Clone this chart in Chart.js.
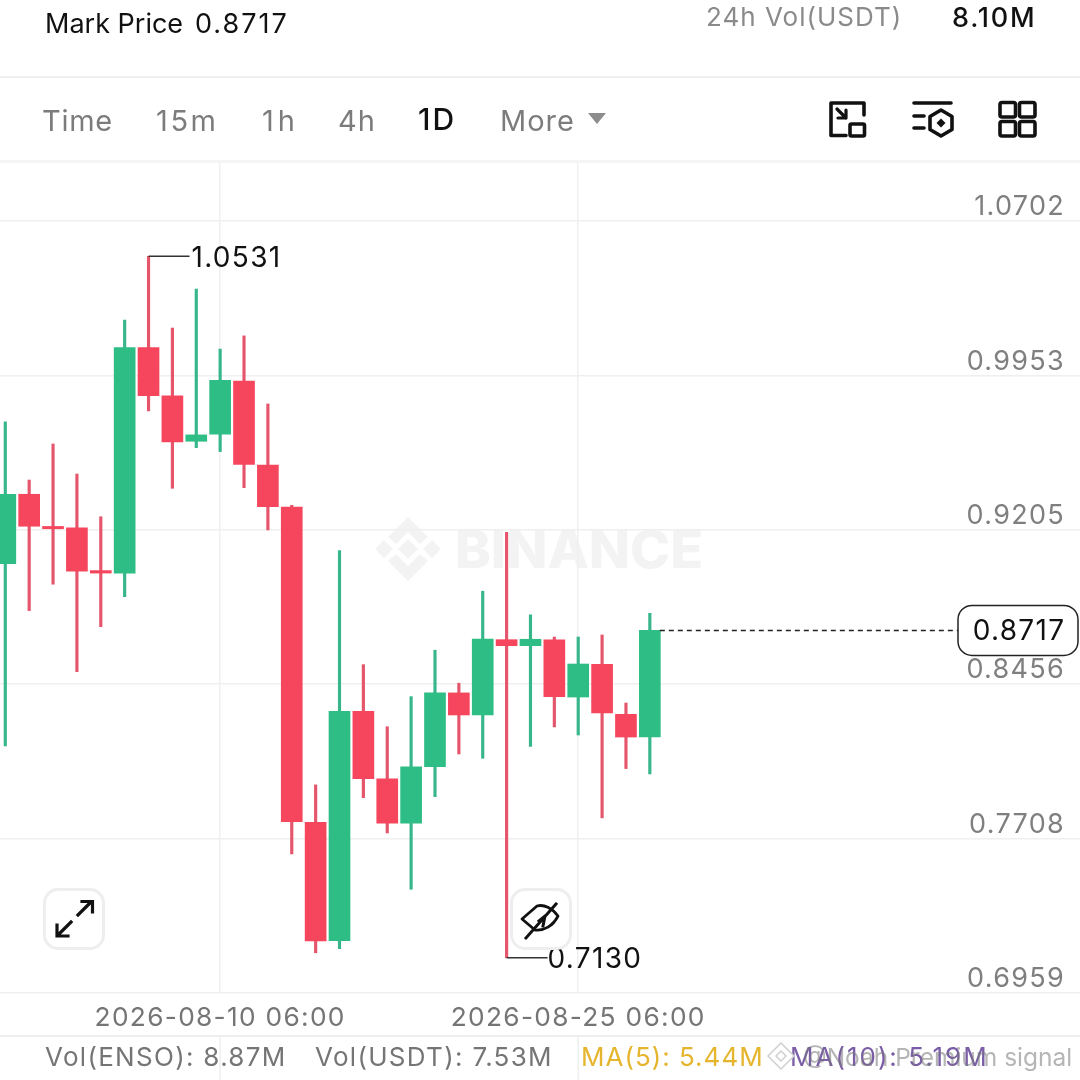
<!DOCTYPE html>
<html lang="en">
<head>
<meta charset="UTF-8">
<title>ENSO 1D</title>
<script src="https://cdn.jsdelivr.net/npm/chart.js"></script>
<style>
    html, body { margin: 0; padding: 0; background: #fff; }
    body { width: 1080px; height: 1080px; position: relative; overflow: hidden; font-family: 'Inter', sans-serif; }
    .t { position: absolute; white-space: nowrap; line-height: 1; transform: translateY(-50%); }
    .hline { position: absolute; left: 0; width: 1080px; }
    #chart { position: absolute; left: 0; top: 0; }
    svg.layer { position: absolute; left: 0; top: 0; }
    .btn { position: absolute; width: 56px; height: 56px; border: 3px solid #eeeeee; border-radius: 15px; background: #fff; }
    .tab { font-size: 29px; color: #7c7c7c; }
    .foot { font-size: 26px; color: #757575; }
</style>
</head>
<body>
    <svg class="layer" width="1080" height="1080" fill="#f3f3f3">
        <g transform="translate(408 549)">
            <polygon points="0,-10 10,0 0,10 -10,0"/>
            <polygon points="-24,-9 -15,0 -24,9 -33,0"/>
            <polygon points="24,-9 33,0 24,9 15,0"/>
            <polygon points="0,-32 20,-12 12,-5 0,-17 -12,-5 -20,-12"/>
            <polygon points="0,32 20,12 12,5 0,17 -12,5 -20,12"/>
        </g>
        <text x="455" y="568" font-family="Inter" font-weight="800" font-size="52" textLength="248" lengthAdjust="spacingAndGlyphs">BINANCE</text>
    </svg>

    <canvas id="chart" width="1080" height="1080"></canvas>

    <div class="t" style="left:45px;top:23px;font-size:27px;color:#111;">Mark Price</div>
    <div class="t" style="left:195px;top:23px;font-size:27px;color:#111;letter-spacing:2px;">0.8717</div>
    <div class="t" style="left:706px;top:17px;font-size:26px;color:#8a8a8a;letter-spacing:1px;">24h Vol(USDT)</div>
    <div class="t" style="left:952px;top:17px;font-size:27px;color:#111;font-weight:500;letter-spacing:1.800px;">8.10M</div>
    <div class="hline" style="top:76px;height:2px;background:#efefef;"></div>

    <div class="t tab" style="left:42px;top:120px;letter-spacing:.7px;">Time</div>
    <div class="t tab" style="left:156px;top:120px;letter-spacing:2.600px;">15m</div>
    <div class="t tab" style="left:262px;top:120px;letter-spacing:4px;">1h</div>
    <div class="t tab" style="left:338px;top:120px;letter-spacing:1px;">4h</div>
    <div class="t tab" style="left:418px;top:119px;font-size:30px;color:#111;font-weight:500;letter-spacing:2px;">1D</div>
    <div class="t tab" style="left:500px;top:120px;letter-spacing:1px;">More</div>
    <div class="hline" style="top:160px;height:3px;background:#f5f5f5;"></div>

    <svg class="layer" width="1080" height="1080" fill="none" stroke="#111" stroke-width="3.6" stroke-linecap="round" stroke-linejoin="round">
        <polygon points="588,113 606,113 597,124" fill="#8c8c8c" stroke="none"/>
        <!-- toolbar icons -->
        <path d="M846 135.500H831V103H864V115"/>
        <rect x="850" y="124" width="14.500" height="12" rx="1.500"/>
        <path d="M837 109L846 118M846 110V118H838" stroke-width="3.200"/>
        <path d="M914 103H951M914 116H924M914 128H924"/>
        <path d="M941 110L952 116.500V129.500L941 136L930 129.500V116.500Z"/>
        <path d="M941 118.500L945.500 123L941 127.500L936.500 123Z" fill="#111" stroke="none"/>
        <rect x="1000" y="102.500" width="15.500" height="14.500" rx="2"/>
        <rect x="1019.500" y="102.500" width="15.500" height="14.500" rx="2"/>
        <rect x="1000" y="121.500" width="15.500" height="14.500" rx="2"/>
        <rect x="1019.500" y="121.500" width="15.500" height="14.500" rx="2"/>
    </svg>

    <div class="btn" style="left:43px;top:888px;"></div>
    <div class="btn" style="left:510px;top:888px;"></div>
    <svg class="layer" width="1080" height="1080" fill="none" stroke="#111" stroke-width="3.200" stroke-linecap="square" stroke-linejoin="miter">
        <path d="M78 915L91 902M82 901.500H92.500V912"/>
        <path d="M71 922L57.500 935.500M57 925V936H68"/>
        <path d="M522 919L537 906C544 904 552 908 558 916C553 926 544 931 535 930Z" stroke-width="2.800" stroke-linejoin="round"/>
        <path d="M526 938L556 904M539 921L545 916L543 926" stroke-width="3"/>
    </svg>

    <div class="t foot" style="left:45px;top:1057px;letter-spacing:1.300px;">Vol(ENSO): 8.87M</div>
    <div class="t foot" style="left:315px;top:1057px;letter-spacing:1.300px;">Vol(USDT): 7.53M</div>
    <div class="t foot" style="left:581px;top:1057px;color:#e5b52e;letter-spacing:1px;">MA(5): 5.44M</div>
    <div class="t foot" style="left:790px;top:1057px;color:#7a5da6;letter-spacing:2px;">MA(10): 5.19M</div>
    <svg class="layer" width="1080" height="1080" fill="#fff" stroke="#cfcfcf" stroke-width="1.500">
        <polygon points="781,1043 794,1056 781,1069 768,1056"/>
        <polygon points="781,1051 786,1056 781,1061 776,1056"/>
    </svg>
    <div class="t foot" style="left:803px;top:1057px;font-size:24.500px;color:rgba(120,120,120,.55);">@Noah Premium signal</div>

    <script>
        const opens  = [0.9040, 0.9377, 0.9221, 0.9214, 0.9007, 0.8995, 1.0088, 0.9854, 0.9634, 0.9669, 0.9926, 0.9518, 0.9315, 0.7787, 0.7213, 0.8325, 0.7997, 0.7782, 0.8056, 0.8414, 0.8307, 0.8672, 0.8643, 0.8671, 0.8394, 0.8553, 0.8310, 0.8200];
        const closes = [0.9377, 0.9222, 0.9210, 0.9004, 0.8995, 1.0088, 0.9855, 0.9631, 0.9665, 0.9930, 0.9522, 0.9317, 0.7790, 0.7211, 0.8325, 0.7998, 0.7782, 0.8055, 0.8414, 0.8307, 0.8675, 0.8643, 0.8674, 0.8396, 0.8554, 0.8317, 0.8200, 0.8717];
        const highs  = [0.9728, 0.9446, 0.9621, 0.9475, 0.9268, 1.0222, 1.0531, 1.0183, 1.0372, 1.0081, 1.0145, 0.9815, 0.9324, 0.7968, 0.9104, 0.8551, 0.8250, 0.8396, 0.8621, 0.8461, 0.8907, 0.9193, 0.8793, 0.8685, 0.8685, 0.8695, 0.8365, 0.8800];
        const lows   = [0.8157, 0.8813, 0.8941, 0.8517, 0.8735, 0.8881, 0.9781, 0.9406, 0.9603, 0.9584, 0.9409, 0.9204, 0.7633, 0.7154, 0.7174, 0.7906, 0.7735, 0.7462, 0.7911, 0.8118, 0.8097, 0.7130, 0.8155, 0.8249, 0.8210, 0.7808, 0.8047, 0.8021];

        const priceTicks = [1.0702, 0.9953, 0.9205, 0.8456, 0.7708, 0.6959];
        const dateTicks = [9, 24];
        const dateLabels = ['2026-08-10 06:00', '2026-08-25 06:00'];
        const lastPrice = 0.8717;

        const UP = '#2ebd85', DOWN = '#f6465d', GRID = '#efefef';
        const WICK_UP = '#38b68b', WICK_DOWN = '#e5566c';
        const candleColors = opens.map((o, i) => closes[i] >= o ? UP : DOWN);
        const wickColors = opens.map((o, i) => closes[i] >= o ? WICK_UP : WICK_DOWN);
        const fontFamily = "'Inter', sans-serif";

        // high / low callouts, last price line and the strip under the date axis
        const overlay = {
            id: 'overlay',
            beforeDraw(chart) {
                chart.ctx.letterSpacing = '1.3px';
            },
            afterDraw(chart) {
                const ctx = chart.ctx, x = chart.scales.x, y = chart.scales.y;
                ctx.save();

                // vertical grid carries on in the volume strip
                ctx.strokeStyle = GRID;
                ctx.lineWidth = 1.5;
                dateTicks.forEach(t => {
                    ctx.beginPath();
                    ctx.moveTo(x.getPixelForValue(t), 1037);
                    ctx.lineTo(x.getPixelForValue(t), 1080);
                    ctx.stroke();
                });
                ctx.fillStyle = '#eeeeee';
                ctx.fillRect(0, 1035, 1080, 2);

                ctx.font = '28px ' + fontFamily;
                ctx.textBaseline = 'middle';
                ctx.textAlign = 'left';
                [highs.indexOf(Math.max(...highs)), lows.indexOf(Math.min(...lows))].forEach((i, n) => {
                    const v = n === 0 ? highs[i] : lows[i];
                    const px = x.getPixelForValue(i), py = y.getPixelForValue(v);
                    ctx.strokeStyle = '#333';
                    ctx.lineWidth = 1.5;
                    ctx.beginPath();
                    ctx.moveTo(px, py);
                    ctx.lineTo(px + 41, py);
                    ctx.stroke();
                    ctx.fillStyle = '#111';
                    ctx.fillText(v.toFixed(4), px + (n === 0 ? 43 : 41), py + 2);
                });

                const ly = y.getPixelForValue(lastPrice);
                ctx.strokeStyle = '#222';
                ctx.lineWidth = 1.5;
                ctx.setLineDash([5, 4]);
                ctx.beginPath();
                ctx.moveTo(x.getPixelForValue(opens.length - 1) + 10, ly);
                ctx.lineTo(958, ly);
                ctx.stroke();
                ctx.setLineDash([]);

                ctx.fillStyle = '#fff';
                ctx.beginPath();
                ctx.roundRect(958, ly - 25, 120, 50, 14);
                ctx.fill();
                ctx.stroke();
                ctx.fillStyle = '#111';
                ctx.textAlign = 'center';
                ctx.fillText(lastPrice.toFixed(4), 1019, ly + 1);
                ctx.restore();
            }
        };

        new Chart(document.getElementById('chart'), {
            type: 'bar',
            data: {
                datasets: [
                    {
                        data: lows.map((l, i) => ({ x: i, y: [l, highs[i]] })),
                        backgroundColor: wickColors,
                        barThickness: 2.5,
                        order: 2
                    },
                    {
                        data: opens.map((o, i) => ({ x: i, y: [o, closes[i]] })),
                        backgroundColor: candleColors,
                        barThickness: 21,
                        order: 1
                    }
                ]
            },
            options: {
                responsive: false,
                animation: false,
                devicePixelRatio: 1,
                layout: { padding: { top: 162 } },
                datasets: { bar: { grouped: false } },
                plugins: { legend: { display: false }, tooltip: { enabled: false } },
                scales: {
                    x: {
                        type: 'linear',
                        offset: false,
                        min: -0.222,
                        max: 45.02,
                        afterBuildTicks: s => { s.ticks = dateTicks.map(v => ({ value: v })); },
                        afterFit: s => { s.height = 87; },
                        grid: { offset: false, color: GRID, lineWidth: 1.5, drawTicks: false },
                        border: { display: false },
                        ticks: {
                            autoSkip: false,
                            maxRotation: 0,
                            padding: 9,
                            color: '#757575',
                            font: { family: fontFamily, size: 26.3 },
                            callback: v => dateLabels[dateTicks.indexOf(v)]
                        }
                    },
                    y: {
                        position: 'right',
                        min: 0.6959,
                        max: 1.0988,
                        afterBuildTicks: s => { s.ticks = priceTicks.map(v => ({ value: v })); },
                        afterFit: s => { s.width = 0; },
                        grid: { color: GRID, lineWidth: 1.5, drawTicks: false },
                        border: { display: false },
                        ticks: {
                            mirror: true,
                            padding: -15,
                            labelOffset: -14,
                            color: '#7f7f7f',
                            font: { family: fontFamily, size: 27 },
                            callback: v => v.toFixed(4)
                        }
                    }
                }
            },
            plugins: [overlay]
        });
    </script>
</body>
</html>
